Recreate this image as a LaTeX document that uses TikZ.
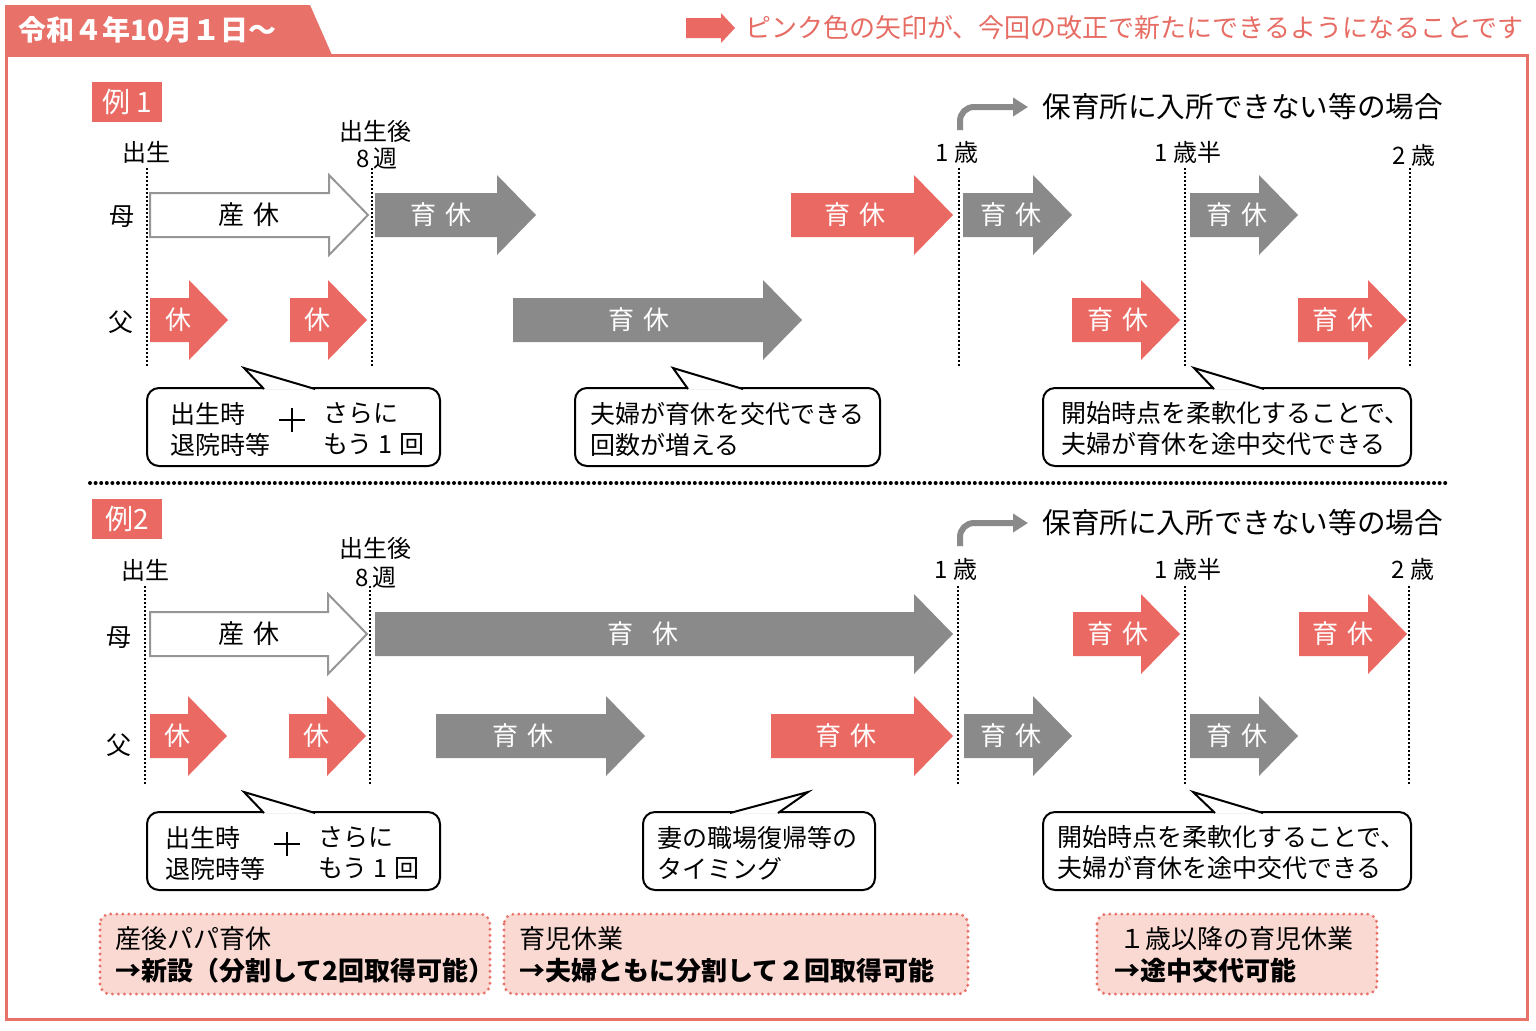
\documentclass[tikz,border=0pt]{standalone}
\usepackage{fontspec}
\setmainfont{Noto Sans CJK JP}
\usetikzlibrary{arrows.meta}

\definecolor{pinkarr}{RGB}{234,106,99}
\definecolor{grayarr}{RGB}{138,138,138}
\definecolor{linegray}{RGB}{150,150,150}
\definecolor{framecol}{RGB}{232,113,106}
\definecolor{notefill}{RGB}{250,217,211}
\definecolor{legendtxt}{RGB}{230,108,100}

% block arrow: [text colour]{name}{style}{x start}{x end}{y}{text x}{text}
\newcommand{\leavearrow}[8][white]{%
  \path[#3] (#4,{#6-22}) -- ({#5-39},{#6-22}) -- ({#5-39},{#6-40}) -- (#5,#6)
    -- ({#5-39},{#6+40}) -- ({#5-39},{#6+22}) -- (#4,{#6+22}) -- cycle;
  \node[arrowtext, text=#1] (#2) at (#7,#6) {#8};
}
% speech tail: {box top}{apex x}{apex y}{base left}{base right}
\newcommand{\calltail}[5]{%
  \path[fill=white] (#4,{#1+1.5}) -- (#2,#3) -- (#5,{#1+1.5}) -- cycle;
  \draw[tailline] (#4,{#1+1}) -- (#2,#3) -- (#5,{#1+1});
}
% plus sign: {x}{y}
\newcommand{\plussign}[2]{%
  \draw[plusline] ({#1-13},#2) -- ({#1+13},#2) (#1,{#2-12}) -- (#1,{#2+12});
}
\newcommand{\kyu}{育\hspace{.35em}休}

\begin{document}
\begin{tikzpicture}[x=0.5pt, y=-0.5pt]
    \tikzset{lbl/.style= {inner sep=0pt
    , font=\fontsize{12}{14}\selectfont
      }
    , arrowtext/.style={inner sep=0pt, font=\fontsize{13}{15}\selectfont}
    , pinkarrow/.style={fill=pinkarr}
    , grayarrow/.style={fill=grayarr}
    , outarrow/.style={draw=linegray, fill=white, line width=1pt}
    , vline/.style={line width=1pt, dash pattern=on 1pt off 1pt}
    , callbox/.style={draw=black, fill=white, line width=1pt, rounded corners=6pt}
    , tailline/.style={line width=1pt, line join=miter}
    , plusline/.style={line width=1.3pt}
    , calltext/.style={inner sep=0pt, anchor=west, align=left
    , font=\fontsize{12.5}{15.5}\selectfont}
    , notebox/.style={fill=notefill, draw=framecol, line width=1.6pt
    , dash pattern=on 0pt off 3pt, line cap=round, rounded corners=5pt}
    , notetext/.style={inner sep=0pt, anchor=west, align=left
    , font=\fontsize{13}{16}\selectfont}
    , tagbox/.style={fill=pinkarr, text=white, inner sep=0pt
    , minimum width=35pt, minimum height=20pt
    , font=\fontsize{14}{16}\selectfont}
    , bentarrow/.style={draw=grayarr, line width=3pt, rounded corners=7pt
    , -{Triangle[length=7.5pt, width=9pt]}}
    }
\useasboundingbox (0,0) rectangle (1536,1030);

% header and frame
\fill[framecol] (5,5) -- (310,5) -- (332,55) -- (5,55) -- cycle;
\draw[framecol, line width=1.5pt] (6,55) rectangle (1527,1019);
\node[lbl, anchor=west, text=white, font=\bfseries\fontsize{14}{16}\selectfont] (title) at (18,30) {令和４年10月１日〜};
\fill[pinkarr] (686,18) -- (721,18) -- (721,13) -- (735,28) -- (721,43) -- (721,38) -- (686,38) -- cycle;
\node[lbl, anchor=west, text=legendtxt, font=\fontsize{13}{15}\selectfont] (legend) at (745,28) {ピンク色の矢印が、今回の改正で新たにできるようになることです};

% example 1
\node[tagbox] (ex1) at (127,102) {例 1};
\node[lbl] (birth1) at (146,152) {出生};
\node[lbl] (after1) at (375,131) {出生後};
\node[lbl] (week1) at (377,159) {8\hspace{.15em}週};
\node[lbl] (one1) at (957,152) {1\hspace{.25em}歳};
\node[lbl] (half1) at (1188,152) {1\hspace{.25em}歳半};
\node[lbl] (two1) at (1414,155) {2\hspace{.25em}歳};
\node[lbl, anchor=west, font=\fontsize{14.3}{17}\selectfont] (nursery1) at (1042,107) {保育所に入所できない等の場合};
\coordinate (turn1a) at (960,130);
\coordinate (turn1b) at (1028,107);
\draw[bentarrow] (turn1a) |- (turn1b);

\foreach \x in {147,372,959,1185,1410}
  \draw[vline] (\x,168) -- (\x,368);

\node[lbl, font=\fontsize{12.5}{14}\selectfont] (mother1) at (122,217) {母};
\node[lbl, font=\fontsize{12.5}{14}\selectfont] (father1) at (121,322) {父};

\leavearrow[black]{mleave1}{outarrow}{150}{368}{215}{249}{産\hspace{.35em}休}
\leavearrow{mcare1}{grayarrow}{375}{536}{215}{441}{\kyu}
\leavearrow{mcare1b}{pinkarrow}{791}{953}{215}{855}{\kyu}
\leavearrow{mcare1c}{grayarrow}{963}{1072}{215}{1011}{\kyu}
\leavearrow{mcare1d}{grayarrow}{1190}{1298}{215}{1237}{\kyu}

\leavearrow{fleave1a}{pinkarrow}{150}{228}{320}{178}{休}
\leavearrow{fleave1b}{pinkarrow}{290}{367}{320}{317}{休}
\leavearrow{fcare1a}{grayarrow}{513}{802}{320}{639}{\kyu}
\leavearrow{fcare1b}{pinkarrow}{1072}{1180}{320}{1118}{\kyu}
\leavearrow{fcare1c}{pinkarrow}{1298}{1407}{320}{1343}{\kyu}

\draw[callbox] (147,388) rectangle (440,466);
\calltail{388}{244}{368}{264}{315}
\node[calltext] (note1a) at (170,429) {出生時\\退院時等};
\plussign{292}{420}
\node[calltext] (note1b) at (323,429) {さらに\\もう\hspace{.25em}1\hspace{.25em}回};

\draw[callbox] (575,388) rectangle (880,466);
\calltail{388}{673}{368}{688}{743}
\node[calltext] (note1c) at (590,429) {夫婦が育休を交代できる\\回数が増える};

\draw[callbox] (1043,388) rectangle (1411,466);
\calltail{388}{1194}{368}{1214}{1264}
\node[calltext] (note1d) at (1061,429) {開始時点を柔軟化することで、\\夫婦が育休を途中交代できる};

% separator
\draw[line width=2pt, dash pattern=on 0pt off 2.8pt, line cap=round] (90,483) -- (1448,483);

% example 2
\node[tagbox] (ex2) at (127,519) {例2};
\node[lbl] (birth2) at (145,570) {出生};
\node[lbl] (after2) at (375,548) {出生後};
\node[lbl] (week2) at (376,578) {8\hspace{.15em}週};
\node[lbl] (one2) at (956,569) {1\hspace{.25em}歳};
\node[lbl] (half2) at (1188,569) {1\hspace{.25em}歳半};
\node[lbl] (two2) at (1413,569) {2\hspace{.25em}歳};
\node[lbl, anchor=west, font=\fontsize{14.3}{17}\selectfont] (nursery2) at (1042,523) {保育所に入所できない等の場合};
\coordinate (turn2a) at (960,546);
\coordinate (turn2b) at (1028,523);
\draw[bentarrow] (turn2a) |- (turn2b);

\foreach \x in {145,370,958,1185,1409}
  \draw[vline] (\x,586) -- (\x,786);

\node[lbl, font=\fontsize{12.5}{14}\selectfont] (mother2) at (119,638) {母};
\node[lbl, font=\fontsize{12.5}{14}\selectfont] (father2) at (119,745) {父};

\leavearrow[black]{mleave2}{outarrow}{150}{367}{634}{249}{産\hspace{.35em}休}
\leavearrow{mcare2}{grayarrow}{375}{953}{634}{643}{育\hspace{.7em}休}
\leavearrow{mcare2b}{pinkarrow}{1073}{1180}{634}{1118}{\kyu}
\leavearrow{mcare2c}{pinkarrow}{1299}{1407}{634}{1343}{\kyu}

\leavearrow{fleave2a}{pinkarrow}{150}{227}{736}{177}{休}
\leavearrow{fleave2b}{pinkarrow}{289}{366}{736}{316}{休}
\leavearrow{fcare2a}{grayarrow}{436}{645}{736}{523}{\kyu}
\leavearrow{fcare2b}{pinkarrow}{771}{953}{736}{846}{\kyu}
\leavearrow{fcare2c}{grayarrow}{964}{1072}{736}{1011}{\kyu}
\leavearrow{fcare2d}{grayarrow}{1190}{1298}{736}{1237}{\kyu}

\draw[callbox] (147,812) rectangle (440,890);
\calltail{812}{244}{792}{264}{315}
\node[calltext] (note2a) at (165,853) {出生時\\退院時等};
\plussign{287}{844}
\node[calltext] (note2b) at (318,853) {さらに\\もう\hspace{.25em}1\hspace{.25em}回};

\draw[callbox] (643,812) rectangle (875,890);
\calltail{812}{808}{792}{730}{778}
\node[calltext] (note2c) at (657,853) {妻の職場復帰等の\\タイミング};

\draw[callbox] (1043,812) rectangle (1411,890);
\calltail{812}{1193}{792}{1215}{1263}
\node[calltext] (note2d) at (1057,853) {開始時点を柔軟化することで、\\夫婦が育休を途中交代できる};

% summary boxes
\draw[notebox] (100,914) rectangle (490,994);
\node[notetext] (sumA) at (115,955) {産後パパ育休\\\textbf{→新設（分割して2回取得可能）}};
\draw[notebox] (504,914) rectangle (968,994);
\node[notetext] (sumB) at (519,955) {育児休業\\\textbf{→夫婦ともに分割して２回取得可能}};
\draw[notebox] (1097,914) rectangle (1377,994);
\node[notetext] (sumC) at (1114,955) {\hspace{.2em}１歳以降の育児休業\\\textbf{→途中交代可能}};
\end{tikzpicture}
\end{document}
